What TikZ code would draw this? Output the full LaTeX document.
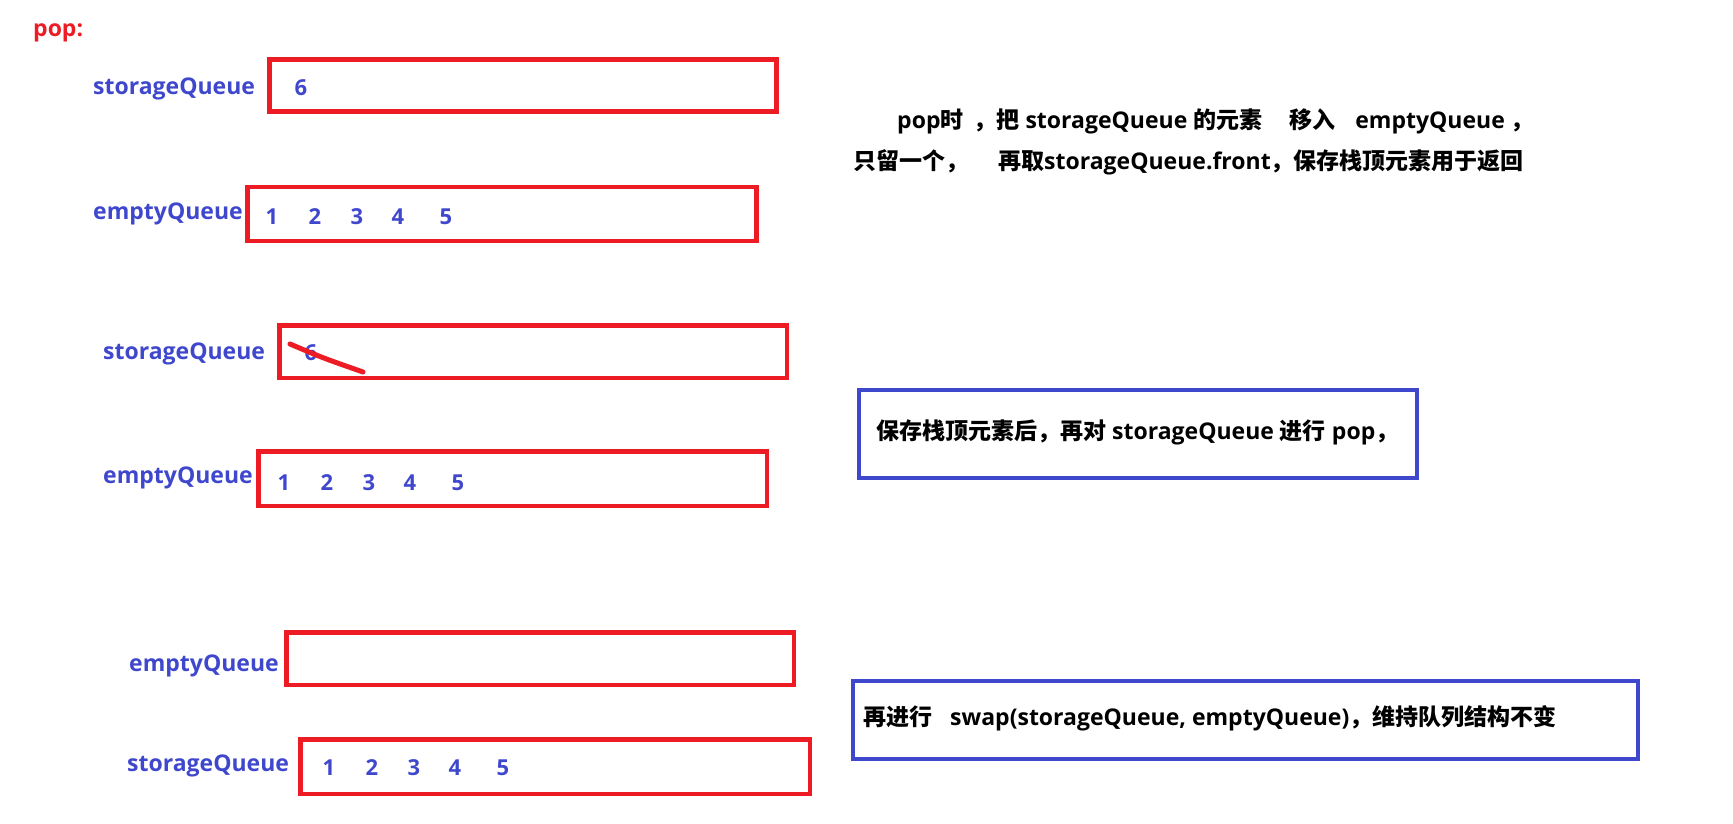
\documentclass[tikz,border=0pt]{standalone}
\usepackage{fontspec}
\setmainfont{Open Sans}
\newfontfamily\zhfont{Noto Sans CJK SC}
\newcommand{\zh}[1]{{\zhfont #1}}
\usepackage{tikz}
\usetikzlibrary{calc}
\usepackage{xcolor}
\definecolor{qred}{RGB}{237,28,36}
\definecolor{qblue}{RGB}{63,72,204}

\begin{document}
\begin{tikzpicture}[x=1pt,y=-1pt,
        qname/.style={font=\fontsize{23}{26}\selectfont\bfseries,text=qblue,anchor=west,inner sep=0pt},
        qnum/.style={font=\fontsize{22}{26}\selectfont\bfseries,text=qblue,inner sep=0pt},
        qbox/.style={draw=qred,line width=4.5pt,inner sep=0pt},
        notebox/.style={draw=qblue,line width=4pt,inner sep=0pt},
        note/.style={font=\fontsize{23}{26}\selectfont\bfseries,anchor=west,inner sep=0pt}]
        \useasboundingbox (0,0) rectangle (1733,824);
        \node[font=\fontsize{23}{26}\selectfont\bfseries,text=qred,anchor=west,inner sep=0pt] (title) at (33,33) {pop:};
        % before pop
        \node[qbox,minimum width=507pt,minimum height=52pt] (sq1) at (523,85.5) {};
        \node[qbox,minimum width=509pt,minimum height=53.5pt] (eq1) at (502,214) {};
        \node[qname] (sqlbl1) at (93,89) {storageQueue};
        \node[qname] (eqlbl1) at (93,214) {emptyQueue};
        \node[qnum] (top1) at (301,88) {6};
        \foreach \n/\dx in {1/0,2/43,3/85,4/126,5/174}
          \node[qnum] (ea\n) at (272+\dx,217) {\n};
        \node[note] (info1) at (897,121) {pop\zh{时}\hspace{10pt}\zh{，把} storageQueue \zh{的元素}\hspace{27pt}\zh{移入}\hspace{20pt}emptyQueue\hspace{6pt}\zh{，}};
        \node[note] (info2) at (853,162) {\zh{只留一个，}\hspace{30pt}\zh{再取}storageQueue.front\zh{，保存栈顶元素用于返回}};
        % after front
        \node[qbox,minimum width=507.5pt,minimum height=52.5pt] (sq2) at (533,351.5) {};
        \node[qbox,minimum width=508.5pt,minimum height=54.5pt] (eq2) at (512.5,478.5) {};
        \node[qname] (sqlbl2) at (103,354) {storageQueue};
        \node[qname] (eqlbl2) at (103,478) {emptyQueue};
        \node[qnum] (top2) at (311,353) {6};
        \draw[qred,line width=5pt,line cap=round] ($(top2)+(-21,-9)$) .. controls ($(top2)+(12,5)$) .. ($(top2)+(52,19)$);
        \foreach \n/\dx in {1/0,2/43,3/85,4/126,5/174}
          \node[qnum] (eb\n) at (284+\dx,483) {\n};
        \node[notebox,minimum width=558pt,minimum height=88pt] (noteA) at (1138,434) {};
        \node[note] (infoA) at (876,432) {\zh{保存栈顶元素后，再对} storageQueue \zh{进行} pop\zh{，}};
        % after swap
        \node[qbox,minimum width=507.5pt,minimum height=52.5pt] (eq3) at (540,658.5) {};
        \node[qbox,minimum width=509.5pt,minimum height=54.5pt] (sq3) at (555,766.5) {};
        \node[qname] (eqlbl3) at (129,666) {emptyQueue};
        \node[qname] (sqlbl3) at (127,766) {storageQueue};
        \foreach \n/\dx in {1/0,2/43,3/85,4/126,5/174}
          \node[qnum] (ec\n) at (329+\dx,768) {\n};
        \node[notebox,minimum width=785pt,minimum height=78pt] (noteB) at (1245.5,720) {};
        \node[note] (infoB) at (863,718) {\zh{再进行}\hspace{18pt}swap(storageQueue, emptyQueue)\zh{，维持队列结构不变}};
\end{tikzpicture}
\end{document}
